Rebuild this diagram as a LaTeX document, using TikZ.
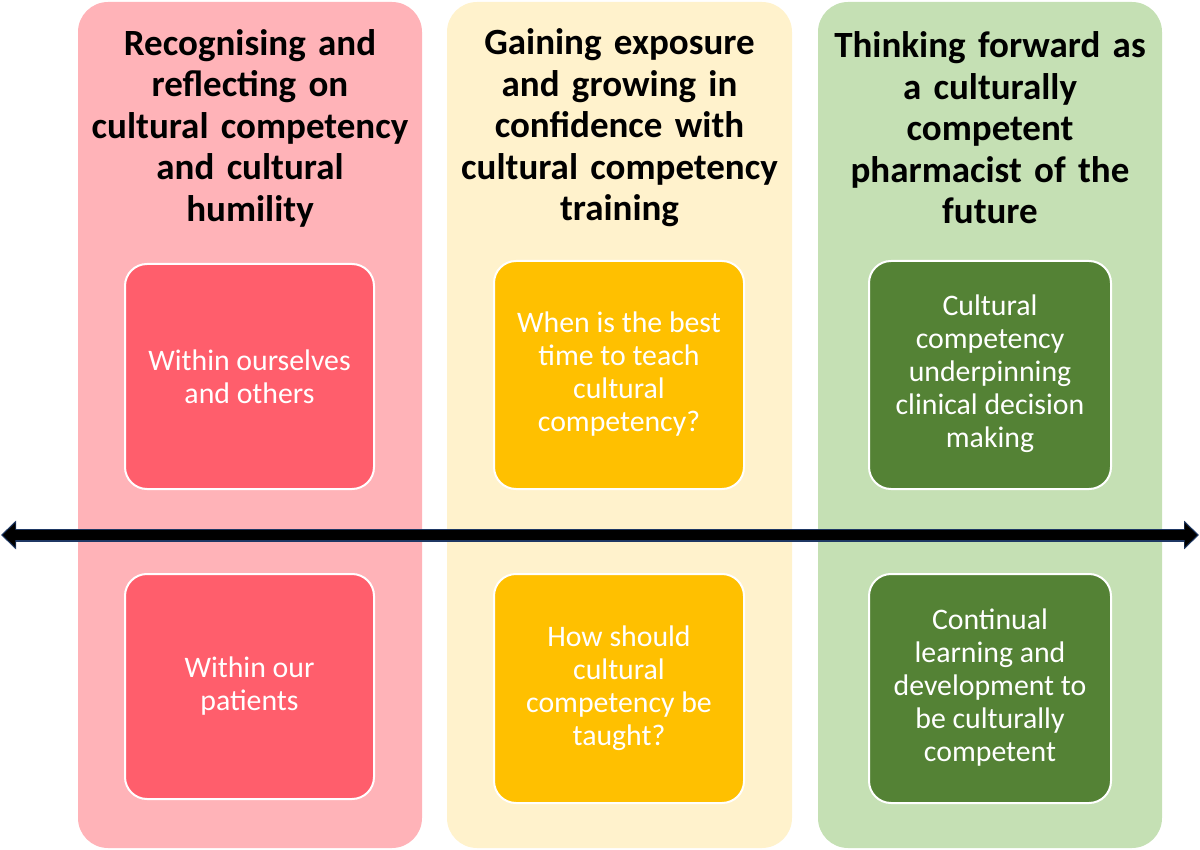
\documentclass[tikz,border=0pt]{standalone}
\usepackage{fontspec}
\setmainfont{Carlito}
\usetikzlibrary{arrows.meta}
\definecolor{pinkbg}{RGB}{255,179,184}
\definecolor{pinkbox}{RGB}{255,94,108}
\definecolor{yellowbg}{RGB}{255,242,204}
\definecolor{yellowbox}{RGB}{255,192,0}
\definecolor{greenbg}{RGB}{197,224,180}
\definecolor{greenbox}{RGB}{84,130,53}
\definecolor{navyedge}{RGB}{31,56,100}
\begin{document}
\begin{tikzpicture}[x=1pt,y=-1pt,
  column/.style={rounded corners=30pt},
  titletext/.style={align=center, inner sep=0pt, text width=340pt,
    font=\fontsize{37}{41.5}\selectfont\bfseries, text=black},
  itembox/.style={draw=white, line width=2pt, rounded corners=22pt,
    text=white, align=center, inner sep=0pt,
    font=\fontsize{29.8}{33}\selectfont},
]
\useasboundingbox (0,0) rectangle (1200,850);
% columns
\fill[pinkbg, column] (78,2) rectangle (422,848);
\fill[yellowbg, column] (447,2) rectangle (792,848);
\fill[greenbg, column] (818,2) rectangle (1162,848);
% titles
\node[titletext] (t1) at (250,128) {Recognising and\\reflecting on\\cultural competency\\and cultural\\humility};
\node[titletext] (t2) at (619.5,128) {Gaining exposure\\and growing in\\confidence with\\cultural competency\\training};
\node[titletext] (t3) at (990,128) {Thinking forward as\\a culturally\\competent\\pharmacist of the\\future};
% item boxes
\draw[itembox, fill=pinkbox] (125,264) rectangle (374,489);
\node[itembox, draw=none] (p1) at (249.5,376.5) {Within ourselves\\and others};
\draw[itembox, fill=pinkbox] (125,574) rectangle (374,799);
\node[itembox, draw=none] (p2) at (249.5,686.5) {Within our\\patients};
\draw[itembox, fill=yellowbox] (494,261) rectangle (744,489);
\node[itembox, draw=none] (y1) at (619,374) {When is the best\\time to teach\\cultural\\competency?};
\draw[itembox, fill=yellowbox] (494,574) rectangle (744,803);
\node[itembox, draw=none] (y2) at (619,688) {How should\\cultural\\competency be\\taught?};
\draw[itembox, fill=greenbox] (869,261) rectangle (1111,489);
\node[itembox, draw=none] (g1) at (990,374) {Cultural\\competency\\underpinning\\clinical decision\\making};
\draw[itembox, fill=greenbox] (869,574) rectangle (1111,803);
\node[itembox, draw=none] (g2) at (990,688) {Continual\\learning and\\development to\\be culturally\\competent};
% timeline arrow
\coordinate (L) at (1,535);
\coordinate (R) at (1199,535);
\draw[navyedge, line width=13pt, {Triangle[length=15pt,width=28pt]}-{Triangle[length=15pt,width=28pt]}] (L) -- (R);
\draw[black, line width=10pt, shorten <=1.8pt, shorten >=1.8pt, {Triangle[length=12.5pt,width=23.5pt]}-{Triangle[length=12.5pt,width=23.5pt]}] (L) -- (R);
\end{tikzpicture}
\end{document}
